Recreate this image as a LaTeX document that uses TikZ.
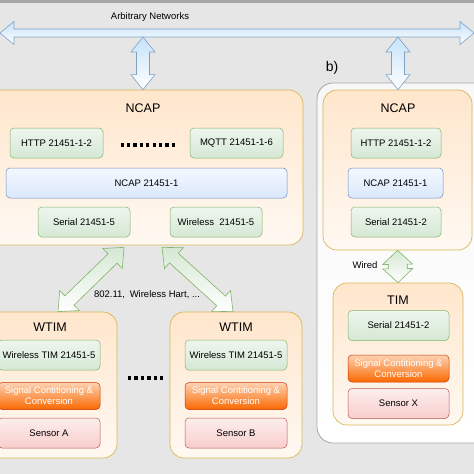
\documentclass[tikz,border=0pt]{standalone}
\usepackage{fontspec}
\setmainfont{Liberation Sans}
\usetikzlibrary{calc}
\definecolor{bgc}{HTML}{E6E6E6}
\definecolor{orf}{HTML}{FFE6CC}
\definecolor{ncl}{HTML}{D6B656}
\definecolor{grf}{HTML}{D5E8D4}
\definecolor{grd}{HTML}{82B366}
\definecolor{blf}{HTML}{DAE8FC}
\definecolor{bld}{HTML}{6C8EBF}
\definecolor{pkf}{HTML}{F8CECC}
\definecolor{pkd}{HTML}{B85450}
\definecolor{ogf}{HTML}{FA6800}
\definecolor{ogd}{HTML}{C73500}
\definecolor{arf}{HTML}{C6E2FA}
\definecolor{ard}{HTML}{7EA2C4}
\newcommand\lblsz{\fontsize{9.5}{11}\selectfont}
\newcommand\ttlsz{\fontsize{12.5}{14}\selectfont}
\tikzset{cn/.style={draw=ncl,rounded corners=14pt,top color=orf,bottom color=orf!25!white,line width=.7pt},
 pnl/.style={draw=gray!70,rounded corners=16pt,top color=gray!6,bottom color=white,line width=.8pt},
 bx/.style={rounded corners=4pt,minimum height=30pt,inner sep=0pt,line width=.5pt,font=\lblsz,align=center},
 gr/.style={bx,draw=grd,top color=grf!40!white,bottom color=grf},
 bl/.style={bx,draw=bld,top color=blf!30!white,bottom color=blf},
 pk/.style={bx,draw=pkd,top color=pkf!35!white,bottom color=pkf},
 og/.style={bx,draw=ogd,top color=ogf!30!white,bottom color=ogf,text=white,minimum height=27pt},
 tt/.style={font=\ttlsz},txt/.style={font=\lblsz},
 dotrow/.style={line width=3.3pt,dash pattern=on 3.3pt off 3.1pt},
 blk/.style n args={3}{to path={let \p1=(\tikztostart),\p2=(\tikztotarget),
  \n1={veclen(\x2-\x1,\y2-\y1)},\n2={(\x2-\x1)/\n1},\n3={(\y2-\y1)/\n1} in
  (\p1)--({\x1+#3*\n2-#2*\n3},{\y1+#3*\n3+#2*\n2})--({\x1+#3*\n2-#1*\n3},{\y1+#3*\n3+#1*\n2})
  --({\x2-#3*\n2-#1*\n3},{\y2-#3*\n3+#1*\n2})--({\x2-#3*\n2-#2*\n3},{\y2-#3*\n3+#2*\n2})--(\p2)
  --({\x2-#3*\n2+#2*\n3},{\y2-#3*\n3-#2*\n2})--({\x2-#3*\n2+#1*\n3},{\y2-#3*\n3-#1*\n2})
  --({\x1+#3*\n2+#1*\n3},{\y1+#3*\n3-#1*\n2})--({\x1+#3*\n2+#2*\n3},{\y1+#3*\n3-#2*\n2})--cycle}},
 bla/.style={draw=ard,line width=.6pt,top color=arf,bottom color=white},
 gra/.style={draw=grd,line width=.6pt,top color=grf,bottom color=white}}
\begin{document}
\begin{tikzpicture}[x=1pt,y=-1pt]
\clip (0,0) rectangle (474,474);
\fill[bgc] (0,0) rectangle (474,474);\fill[gray!70] (0,0) rectangle (474,3);
\coordinate (netL) at (0,33);\coordinate (netR) at (474,33);
\node[txt](arb) at (150,17){Arbitrary Networks};
\node[cn,minimum width=318pt,minimum height=155pt](ncapA) at (144,167.5){};
\node[tt](tA) at (143,108){NCAP};
\node[gr,minimum width=93pt](httpA) at (56.5,143){HTTP 21451-1-2};
\node[gr,minimum width=93pt](mqttA) at (236.5,143){MQTT 21451-1-6};
\draw[dotrow] (120.5,145)--(175,145);
\node[bl,minimum width=281pt](coreA) at (146.5,183){NCAP 21451-1};
\node[gr,minimum width=92pt](serA) at (84,222){Serial 21451-5};
\node[gr,minimum width=92pt](wlA) at (216,222){Wireless\ \ 21451-5};
\node[pnl,minimum width=173pt,minimum height=360pt](pnlB) at (403.5,263){};
\node[font=\fontsize{14}{16}\selectfont](lb) at (332,68){b)};
\node[cn,minimum width=149pt,minimum height=160pt](ncapB) at (397.5,170){};
\node[tt](tB) at (398,108){NCAP};
\node[gr,minimum width=90pt](httpB) at (396,143){HTTP 21451-1-2};
\node[bl,minimum width=95pt](coreB) at (395.5,183){NCAP 21451-1};
\node[gr,minimum width=90pt](serB) at (396,222){Serial 21451-2};
\node[cn,minimum width=130pt,minimum height=142pt](timB) at (398,354){};
\node[tt](tC) at (398,300){TIM};
\node[gr,minimum width=101pt](serC) at (398.5,325.5){Serial 21451-2};
\node[og,minimum width=101pt](sigC) at (398.5,368.5){Signal Contitioning \&\\Conversion};
\node[pk,minimum width=101pt](sensX) at (398.5,403.5){Sensor X};
\node[txt](wrd) at (365,265){Wired};
\node[cn,minimum width=132pt,minimum height=146pt](wtimA) at (51,385){};
\node[tt](tD) at (50,327){WTIM};
\node[gr,minimum width=102pt](wtA) at (49,355){Wireless TIM 21451-5};
\node[og,minimum width=102pt](sigA) at (49,396){Signal Contitioning \&\\Conversion};
\node[pk,minimum width=102pt](sensA) at (49,433){Sensor A};
\node[cn,minimum width=132pt,minimum height=146pt](wtimB) at (236,385){};
\node[tt](tE) at (236,327){WTIM};
\node[gr,minimum width=102pt](wtB) at (236,355){Wireless TIM 21451-5};
\node[og,minimum width=102pt](sigB) at (236,396){Signal Contitioning \&\\Conversion};
\node[pk,minimum width=102pt](sensB) at (236,433){Sensor B};
\draw[dotrow] (128,378)--(165,378);
\node[txt](wls) at (147,295){802.11,\enspace Wireless Hart, ...};
\coordinate (a1) at ($(ncapA.north|-netL)+(-1,4)$);\coordinate (a2) at ($(ncapB.north|-netL)+(0.5,4)$);
\coordinate (d1) at ($(ncapA.south)+(-20,2)$);\coordinate (d2) at ($(ncapA.south)+(18,2)$);
\coordinate (w1) at ($(wtimA.north)+(7,0)$);\coordinate (w2) at ($(wtimB.north)+(-3,0)$);
\path[bla,blk={4}{11.5}{14}] (netL) to (netR);
\path[bla,blk={6.5}{12}{15}] (a1) to ($(ncapA.north)+(-1,0)$);
\path[bla,blk={6.5}{12}{15}] (a2) to ($(ncapB.north)+(0.5,0)$);
\path[gra,blk={9.5}{15}{14}] (ncapB.south) to (timB.north);
\path[gra,blk={6.5}{14}{16}] (w1) to (d1);
\path[gra,blk={6.5}{14}{16}] (d2) to (w2);
\end{tikzpicture}
\end{document}
